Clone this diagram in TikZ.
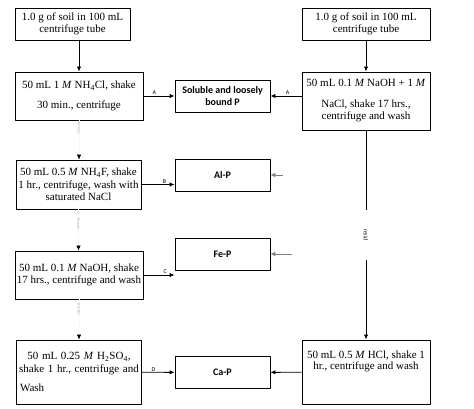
\documentclass[tikz,border=0pt]{standalone}
\usepackage{fontspec}
\setmainfont{Liberation Serif}
\newfontfamily\calibri{Carlito}
\usetikzlibrary{arrows.meta}

\begin{document}
\begin{tikzpicture}[x=1pt,y=-1pt,line join=round,>={Latex[length=5pt,width=4.5pt]},
  stepbox/.style={draw,line width=0.9pt,align=center,inner sep=1.5pt,font=\fontsize{11}{12.5}\selectfont},
  fracbox/.style={draw,line width=0.9pt,align=center,minimum width=95,minimum height=32,font=\calibri\bfseries\fontsize{10}{12}\selectfont},
  arrlabel/.style={font=\calibri\fontsize{6}{6}\selectfont,inner sep=0.8pt,anchor=south},
  residlabel/.style={font=\fontsize{3.5}{3.5}\selectfont,text=gray!75,rotate=-90,inner sep=0.5pt},
  resarrow/.style={draw=gray!6,line width=0.6pt,-{Latex[length=5pt,width=4.5pt,color=black]}}]
  \useasboundingbox (0,0) rectangle (474,409);
  % starting samples
  \node[stepbox,minimum width=115,minimum height=32] (soilL) at (72.5,24) {1.0 g of soil in 100 mL\\centrifuge tube};
  \node[stepbox,minimum width=128,minimum height=32] (soilR) at (366,24) {1.0 g of soil in 100 mL\\centrifuge tube};
  % extraction steps
  \node[stepbox,minimum width=128,minimum height=48] (extA) at (79,96) {50 mL 1 \textit{M} NH\textsubscript{4}Cl, shake\\[7pt]30 min., centrifuge};
  \node[stepbox,minimum width=128,minimum height=58] (extR) at (366,101) {50 mL 0.1 \textit{M} NaOH + 1 \textit{M}\\[8pt]NaCl, shake 17 hrs.,\\centrifuge and wash};
  \node[stepbox,minimum width=125,minimum height=49] (extB) at (78.5,184.5) {50 mL 0.5 \textit{M} NH\textsubscript{4}F, shake\\1 hr., centrifuge, wash with\\saturated NaCl};
  \node[stepbox,minimum width=128,minimum height=48] (extC) at (79,275) {50 mL 0.1 \textit{M} NaOH, shake\\17 hrs., centrifuge and wash};
  \node[stepbox,text width=122,minimum height=64] (extD) at (79,372) {50 mL 0.25 \textit{M} H\textsubscript{2}SO\textsubscript{4},\\shake 1 hr., centrifuge and\\[7pt]\hspace*{2pt}Wash\hfill\null};
  \node[stepbox,minimum width=128,minimum height=64] (extE) at (366,372) {50 mL 0.5 \textit{M} HCl, shake 1\\[-2pt]hr., centrifuge and wash\\\rule{0pt}{20pt}};
  % P fractions
  \node[fracbox] (solP) at (222.5,96) {Soluble and loosely\\bound P};
  \node[fracbox] (alP) at (222.5,175) {Al-P};
  \node[fracbox] (feP) at (222.5,254) {Fe-P};
  \node[fracbox] (caP) at (222.5,372.5) {Ca-P};
  \coordinate (alIn) at (283,175);
  \coordinate (feIn) at (292,254);
  % connectors
  \draw[->,line width=0.9pt] (soilL.south -| extA.north) -- (extA.north);
  \draw[->,line width=0.9pt] (soilR) -- (extR);
  \draw[->,line width=0.9pt] (extA) -- (solP) node[arrlabel,pos=0.35] {A};
  \draw[->,line width=0.9pt] (extR.west |- solP) -- (solP) node[arrlabel,pos=0.45] {A};
  \draw[->,line width=0.9pt] (extB.east) -- (extB.east -| alP.west) node[arrlabel,pos=0.7] {B};
  \draw[->,line width=0.9pt] (extC.east) -- (extC.east -| feP.west) node[arrlabel,pos=0.7] {C};
  \draw[->,line width=0.9pt] (extD) -- (caP) node[arrlabel,pos=0.35] {D};
  \draw[->,line width=0.6pt,gray] (alIn) -- (alP);
  \draw[->,line width=0.6pt,gray] (feIn) -- (feP);
  \draw[->,line width=0.9pt] (extE) -- (caP);
  \draw[resarrow] (extA.south) -- (extA.south |- extB.north) node[residlabel,pos=0.2] {Residue};
  \draw[resarrow] (extB.south) -- (extB.south |- extC.north) node[residlabel,pos=0.35] {Residue};
  \draw[resarrow] (extC.south) -- (extC.south |- extD.north) node[residlabel,pos=0.25] {Residue};
  \draw[->,line width=0.9pt] (extR) -- (extE) node[pos=0.5,fill=white,rotate=-90,minimum width=50,inner sep=0.5pt,font=\fontsize{6}{6}\selectfont] {resid};
\end{tikzpicture}
\end{document}
